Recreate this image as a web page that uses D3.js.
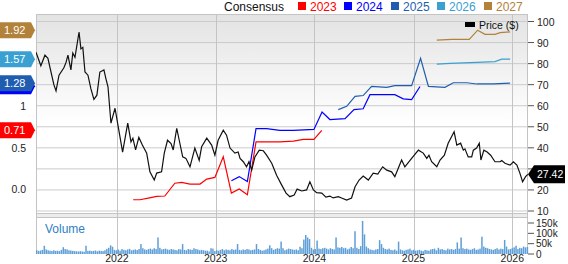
<!DOCTYPE html>
<meta charset="utf-8">
<script src="https://d3js.org/d3.v7.min.js"></script>
<style>
  body { margin: 0; background: #fff; }
  text { font-family: "Liberation Sans", Arial, sans-serif; }
</style>
<div id="chart"></div>
<script>

// ---- data ----
var priceDates = ["2021-03-08","2021-03-26","2021-04-10","2021-04-21","2021-05-13","2021-05-21","2021-06-01","2021-06-19","2021-06-27","2021-07-04",
  "2021-07-15","2021-07-22","2021-07-30","2021-08-14","2021-08-21","2021-08-28","2021-09-05","2021-09-16","2021-09-27","2021-10-08",
  "2021-10-19","2021-10-30","2021-11-14","2021-11-21","2021-11-29","2021-12-10","2021-12-25","2022-01-08","2022-01-22","2022-02-10",
  "2022-02-22","2022-03-01","2022-03-11","2022-03-23","2022-04-05","2022-04-21","2022-05-03","2022-05-19","2022-05-28","2022-06-15",
  "2022-06-25","2022-07-07","2022-07-20","2022-07-28","2022-08-10","2022-09-01","2022-09-13","2022-09-28","2022-10-16","2022-11-01",
  "2022-11-10","2022-11-29","2022-12-17","2022-12-29","2023-01-10","2023-01-29","2023-02-10","2023-02-23","2023-03-13","2023-03-25",
  "2023-04-01","2023-04-13","2023-04-25","2023-05-04","2023-05-14","2023-05-26","2023-06-11","2023-06-26","2023-07-08","2023-07-27",
  "2023-08-14","2023-09-02","2023-09-18","2023-10-02","2023-10-18","2023-10-29","2023-11-15","2023-12-03","2023-12-15","2023-12-28",
  "2024-01-09","2024-01-28","2024-02-12","2024-02-27","2024-03-10","2024-03-29","2024-04-10","2024-04-29","2024-05-17","2024-05-30",
  "2024-06-14","2024-06-29","2024-07-18","2024-08-05","2024-08-22","2024-09-09","2024-09-24","2024-10-12","2024-10-24","2024-11-06",
  "2024-11-18","2024-11-30","2024-12-25","2025-01-19","2025-02-06","2025-02-19","2025-02-27","2025-03-09","2025-03-28","2025-04-09",
  "2025-04-25","2025-05-09","2025-05-31","2025-06-10","2025-06-24","2025-07-04","2025-07-10","2025-07-22","2025-08-04","2025-08-10",
  "2025-08-22","2025-09-01","2025-09-07","2025-09-18","2025-09-30","2025-10-13","2025-10-29","2025-11-17","2025-11-23","2025-12-05",
  "2025-12-24","2026-01-05","2026-01-18","2026-01-29","2026-02-08","2026-02-19","2026-02-27"];
var priceValues = [85.4,79,84,82.5,70,67,74.5,78,80.6,84,
  77,85,83,95,87,87.7,76,74.5,68,63,
  65,76,77,73,69,51.7,58.8,48.4,38,51.7,
  42.8,44.6,39,45,41.3,37.5,28.6,24.7,28,28.6,
  37.5,43.6,42,39,49.3,35.7,35,31,39.9,34,
  40.5,44.6,41.3,36.5,43.6,48.4,46,39.9,37.5,38,
  35,33.4,31,33.4,29.4,35.7,38.9,38.6,36.5,32.7,
  27,22.3,18.5,16.8,17.6,20.4,19.5,20,23.9,20,
  18.7,18.5,16.6,17.1,16.2,16.8,16.2,15.2,16.2,21.5,
  24.7,26.6,24.7,28,27.5,31,29.4,28.6,26.3,30.4,
  34.2,31,35,38.9,37.5,35,36.5,33.4,31,34.2,
  36.5,42.2,47.6,41.3,42.2,38.9,39.5,35.7,35.7,38.9,
  39.9,42.2,34.2,38.9,38,36.5,33.4,33.4,34,32.7,
  31.8,33.4,31.8,28,23.9,26.3,27.42];

var eps2023Dates = ["2022-03-02","2022-03-27","2022-04-27","2022-05-28","2022-06-27","2022-08-03","2022-08-28","2022-09-28","2022-11-04","2022-11-29",
  "2022-12-29","2023-01-29","2023-02-28","2023-03-29","2023-04-28","2023-05-30","2023-07-08","2023-08-26","2023-10-15","2023-11-21","2023-12-30","2024-01-28"];
var eps2023 = [-0.13,-0.13,-0.11,-0.09,-0.085,0.07,0.08,0.06,0.06,0.12,
  0.14,0.39,-0.05,0.0,-0.07,0.57,0.57,0.57,0.58,0.60,0.60,0.71];

var eps2024Dates = ["2023-02-28","2023-03-29","2023-04-28","2023-05-30","2023-07-08","2023-08-26","2023-10-15","2023-12-30","2024-01-29","2024-02-27",
  "2024-04-23","2024-05-26","2024-06-29","2024-07-24","2024-09-18","2024-10-24","2024-11-24","2024-12-25","2025-01-25"];
var eps2024 = [0.10,0.15,0.09,0.73,0.73,0.71,0.71,0.72,0.93,0.84,
  0.85,0.96,0.97,1.14,1.14,1.14,1.09,1.08,1.24];

var eps2025Dates = ["2024-03-29","2024-04-29","2024-05-30","2024-06-29","2024-07-30","2024-09-24","2024-10-24","2024-11-24","2024-12-25","2025-01-27",
  "2025-02-25","2025-04-27","2025-05-28","2025-07-17","2025-08-23","2025-10-23","2025-12-24"];
var eps2025 = [0.96,1.00,1.12,1.13,1.24,1.23,1.25,1.25,1.25,1.58,
  1.24,1.23,1.285,1.285,1.27,1.27,1.28];

var eps2026Dates = ["2025-03-28","2025-05-16","2025-08-23","2025-10-29","2025-11-23","2025-12-24"];
var eps2026 = [1.51,1.52,1.53,1.54,1.57,1.57];

var eps2027Dates = ["2025-03-28","2025-05-22","2025-07-26","2025-08-26","2025-09-22","2025-10-29","2025-11-17","2025-12-24"];
var eps2027 = [1.80,1.81,1.81,1.92,1.87,1.87,1.89,1.90];

// weekly volume in thousands, starting 2021-03-08
var volumeStart = "2021-03-08";
var volumeK = [18,15,17,20,40,22,18,16,14,18,
  15,16,14,20,33,24,22,18,17,15,
  14,13,12,14,12,11,40,15,16,14,
  15,17,13,16,15,14,18,25,30,42,
  35,20,18,22,16,24,20,18,22,25,
  18,20,22,19,24,48,28,22,20,24,
  26,22,28,24,80,30,22,24,26,22,
  20,24,22,20,18,24,22,48,20,18,
  24,22,20,28,24,22,18,20,18,16,
  16,12,28,26,14,18,16,20,24,18,
  22,20,18,24,20,22,48,20,18,22,
  20,24,22,18,20,22,48,24,20,16,
  18,22,26,42,28,20,24,28,26,60,
  28,18,22,26,24,22,20,22,18,35,
  28,70,92,80,72,30,22,24,65,26,
  24,28,30,26,22,28,24,22,80,32,
  30,34,28,30,22,26,34,28,110,30,
  24,38,160,95,36,28,22,20,18,22,
  24,67,48,30,24,22,26,20,18,22,
  16,60,22,18,16,20,22,26,18,20,
  16,18,20,16,14,20,18,16,22,24,
  26,18,30,22,24,20,18,26,22,24,
  20,24,56,26,80,28,24,26,22,20,
  24,28,20,22,26,84,36,30,28,24,
  22,20,24,28,22,26,24,68,36,22,
  24,28,32,40,24,30,28,36,32,34];

var years = ["2023","2024","2025","2026","2027"];
var yearColors = ["#ff0000","#0000ff","#1f5db0","#3aa0d2","#b2813a"];
var badgeLabels = ["0.71","","1.28","1.57","1.92"];
var badgeValues = [0.71,1.235,1.28,1.57,1.92];
var priceTicks = [100,90,80,70,60,50,40,30,20,10];
var epsTicks = [1,0.5,0.0];
var epsTickLabels = ["1","0.5","0.0"];
var volTicks = [150,100,50,0];
var volTickLabels = ["150k","100k","50k","0"];
var yearTicks = ["2022","2023","2024","2025","2026"];
var lastPrice = 27.42;

// ---- layout ----
var W = 568, H = 264;
var pLeft = 36, pRight = 528, pTop = 14, priceBottom = 213, volTop = 218, volBottom = 254;
var parse = d3.timeParse("%Y-%m-%d");

var svg = d3.select("#chart").append("svg")
  .attr("width", W).attr("height", H);

var x = d3.scaleTime()
  .domain([parse("2021-03-08"), parse("2026-02-28")])
  .range([pLeft, pRight]);
var yPrice = d3.scaleLinear().domain([10, 100]).range([211, 21.5]);
var yEps = d3.scaleLinear().domain([0, 1]).range([189, 106.3]);
var yVol = d3.scaleLinear().domain([0, 150]).range([volBottom, 223]);

// background gradient
var defs = svg.append("defs");
var grad = defs.append("linearGradient").attr("id", "bg").attr("x1", 0).attr("y1", 0).attr("x2", 0).attr("y2", 1);
grad.append("stop").attr("offset", "0%").attr("stop-color", "#e3e3e3");
grad.append("stop").attr("offset", "55%").attr("stop-color", "#ffffff");
defs.append("clipPath").attr("id", "clip").append("rect")
  .attr("x", pLeft).attr("y", pTop).attr("width", pRight - pLeft).attr("height", priceBottom - pTop);

svg.append("rect").attr("x", pLeft).attr("y", pTop).attr("width", pRight - pLeft).attr("height", priceBottom - pTop)
  .attr("fill", "url(#bg)");
svg.append("rect").attr("x", pLeft).attr("y", priceBottom).attr("width", pRight - pLeft).attr("height", volTop - priceBottom)
  .attr("fill", "#ececec");

// horizontal grid
svg.append("g").selectAll("line").data(priceTicks).enter().append("line")
  .attr("x1", pLeft).attr("x2", pRight)
  .attr("y1", function(d) { return yPrice(d); }).attr("y2", function(d) { return yPrice(d); })
  .attr("stroke", "#cbcbcb").attr("stroke-width", 1);

// vertical year grid
svg.append("g").selectAll("line").data(yearTicks).enter().append("line")
  .attr("x1", function(d) { return Math.round(x(parse(d + "-01-01"))) + 0.5; })
  .attr("x2", function(d) { return Math.round(x(parse(d + "-01-01"))) + 0.5; })
  .attr("y1", pTop).attr("y2", volBottom)
  .attr("stroke", "#c4c4c4");

// frame lines
[pTop + 0.5, priceBottom + 0.5, volTop - 0.5].forEach(function(yy) {
  svg.append("line").attr("x1", pLeft).attr("x2", pRight).attr("y1", yy).attr("y2", yy).attr("stroke", "#c4c4c4");
});
svg.append("line").attr("x1", pLeft + 0.5).attr("x2", pLeft + 0.5).attr("y1", pTop).attr("y2", volBottom).attr("stroke", "#c4c4c4");
svg.append("line").attr("x1", pRight - 0.5).attr("x2", pRight - 0.5).attr("y1", pTop).attr("y2", volBottom).attr("stroke", "#c4c4c4");

// volume bars
var vStart = parse(volumeStart);
var volData = volumeK.map(function(v, i) { return { date: d3.timeWeek.offset(vStart, i), v: v }; });
svg.append("g").selectAll("rect").data(volData).enter().append("rect")
  .attr("x", function(d) { return x(d.date); })
  .attr("width", 1.5)
  .attr("y", function(d) { return yVol(d.v); })
  .attr("height", function(d) { return yVol(0) - yVol(d.v); })
  .attr("fill", "#5f9fd8");

svg.append("text").attr("x", 45).attr("y", 233).attr("font-size", 12).attr("fill", "#2f80c4").text("Volume");

// EPS lines
var plot = svg.append("g").attr("clip-path", "url(#clip)");
var epsSeries = [
  [eps2023Dates, eps2023], [eps2024Dates, eps2024], [eps2025Dates, eps2025],
  [eps2026Dates, eps2026], [eps2027Dates, eps2027]
];
var epsLine = d3.line()
  .x(function(d) { return x(d[0]); })
  .y(function(d) { return yEps(d[1]); });
epsSeries.forEach(function(s, i) {
  var pts = s[0].map(function(dt, j) { return [parse(dt), s[1][j]]; });
  plot.append("path").datum(pts)
    .attr("d", epsLine)
    .attr("fill", "none")
    .attr("stroke", yearColors[i])
    .attr("stroke-width", 1.2);
});

// price line
var priceData = priceDates.map(function(dt, i) { return [parse(dt), priceValues[i]]; });
plot.append("path").datum(priceData)
  .attr("d", d3.line().x(function(d) { return x(d[0]); }).y(function(d) { return yPrice(d[1]); }))
  .attr("fill", "none").attr("stroke", "#111").attr("stroke-width", 1.2);

// right price axis (the tick hidden under the last-price badge is skipped)
var py = yPrice(lastPrice);
var shownTicks = priceTicks.filter(function(d) { return Math.abs(yPrice(d) - py) > 9; });
var rightAxis = svg.append("g");
rightAxis.selectAll("line").data(priceTicks).enter().append("line")
  .attr("x1", pRight).attr("x2", pRight + 6)
  .attr("y1", function(d) { return yPrice(d); }).attr("y2", function(d) { return yPrice(d); })
  .attr("stroke", "#555");
rightAxis.selectAll("text").data(shownTicks).enter().append("text")
  .attr("x", pRight + 9).attr("y", function(d) { return yPrice(d) + 4; })
  .attr("font-size", 10.5).attr("fill", "#222").text(function(d) { return d; });

// volume axis
svg.append("g").selectAll("line").data(volTicks).enter().append("line")
  .attr("x1", pRight).attr("x2", pRight + 6)
  .attr("y1", function(d) { return yVol(d); }).attr("y2", function(d) { return yVol(d); })
  .attr("stroke", "#555");
svg.append("g").selectAll("text").data(volTicks).enter().append("text")
  .attr("x", pRight + 8).attr("y", function(d) { return yVol(d) + 3.5; })
  .attr("font-size", 10).attr("fill", "#222").text(function(d, i) { return volTickLabels[i]; });

// left eps labels
svg.append("g").selectAll("text").data(epsTicks).enter().append("text")
  .attr("x", 26).attr("y", function(d) { return yEps(d) + 4; })
  .attr("text-anchor", "end").attr("font-size", 10.5).attr("fill", "#222")
  .text(function(d, i) { return epsTickLabels[i]; });

// left badges (2024 sits just under the 2025 one)
[0, 1, 2, 3, 4].forEach(function(i) {
  var cy = yEps(badgeValues[i]);
  if (i === 1) cy = yEps(badgeValues[2]) + 3;
  var g = svg.append("g");
  g.append("path")
    .attr("d", "M0," + (cy - 8) + "H31L35," + cy + "L31," + (cy + 8) + "H0Z")
    .attr("fill", yearColors[i]);
  if (badgeLabels[i]) {
    g.append("text").attr("x", 4).attr("y", cy + 4)
      .attr("font-size", 11).attr("fill", "#fff").text(badgeLabels[i]);
  }
});

// price badge
svg.append("path")
  .attr("d", "M" + pRight + "," + py + "L" + (pRight + 6) + "," + (py - 9) + "H565V" + (py + 9) + "H" + (pRight + 6) + "Z")
  .attr("fill", "#000");
svg.append("text").attr("x", 537).attr("y", py + 4).attr("font-size", 10.5).attr("fill", "#fff").text(lastPrice.toFixed(2));

// year labels
svg.append("g").selectAll("text").data(yearTicks).enter().append("text")
  .attr("x", function(d) { return x(parse(d + "-01-01")); }).attr("y", 262)
  .attr("text-anchor", "middle").attr("font-size", 10.5).attr("fill", "#222").text(function(d) { return d; });

// price legend
svg.append("rect").attr("x", 465).attr("y", 22).attr("width", 10).attr("height", 5).attr("fill", "#000");
svg.append("text").attr("x", 479).attr("y", 29).attr("font-size", 10.5).attr("fill", "#111").text("Price ($)");

// consensus legend
svg.append("text").attr("x", 224).attr("y", 10.5).attr("font-size", 12).attr("fill", "#111").text("Consensus");
var lx = [298, 344, 391, 437, 484];
years.forEach(function(yr, i) {
  svg.append("rect").attr("x", lx[i]).attr("y", 2).attr("width", 8).attr("height", 8).attr("fill", yearColors[i]);
  svg.append("text").attr("x", lx[i] + 12).attr("y", 10.5).attr("font-size", 12).attr("fill", yearColors[i]).text(yr);
});

</script>
